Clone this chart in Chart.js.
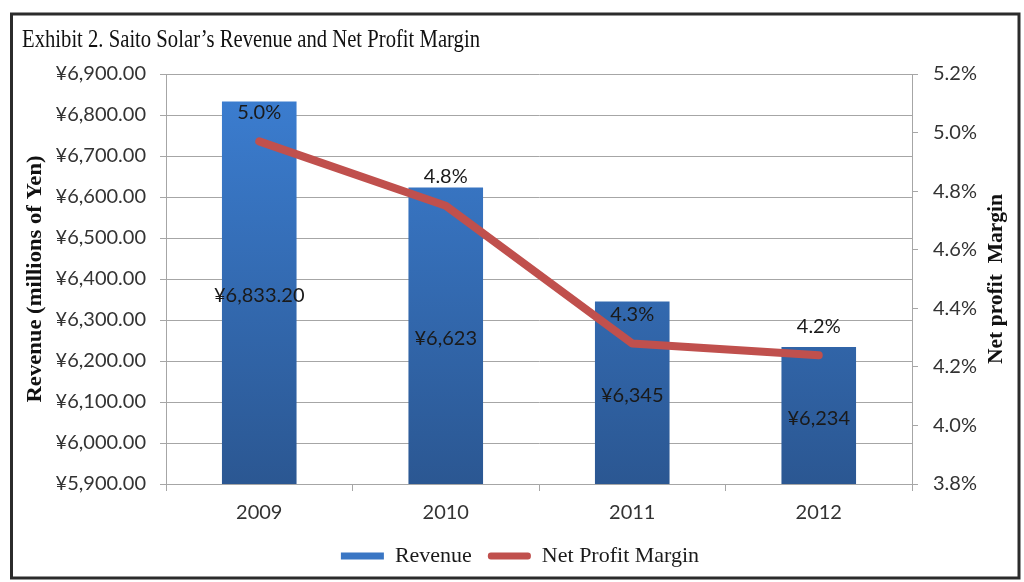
<!DOCTYPE html>
<html>
<head>
<meta charset="utf-8">
<script src="https://cdn.jsdelivr.net/npm/chart.js@4.4.1/dist/chart.umd.min.js"></script>
<style>
  html, body { margin: 0; padding: 0; background: #ffffff; }
  #wrap { width: 1024px; height: 582px; }
</style>
</head>
<body>
<div id="wrap"><canvas id="c" width="1024" height="582"></canvas></div>
<script>
// ---- data ----
const years = ['2009', '2010', '2011', '2012'];
const revenue = [6833.20, 6623, 6345, 6234];
const netMargin = [4.97, 4.75, 4.28, 4.24];
const chartTitle = 'Exhibit 2. Saito Solar\u2019s Revenue and Net Profit Margin';
const leftAxisTitle = 'Revenue (millions of Yen)';
const rightAxisTitle = 'Net profit  Margin';
const seriesNames = ['Revenue', 'Net Profit Margin'];
const revenueAxis = { min: 5900, max: 6900, step: 100 };
const marginAxis = { min: 3.8, max: 5.2, step: 0.2 };

const BAR_TOP = '#3c7fd3';
const BAR_BOTTOM = '#2b5792';
const BAR_LEGEND = '#3a76c4';
const LINE_COLOR = '#c0504d';
const GRID = '#a6a6a6';
const TEXT = '#333333';
const DARK = '#1a1a1a';

function fmtYen(v, fixed) {
  const isInt = Math.abs(v - Math.round(v)) < 1e-9;
  const digits = fixed ? 2 : (isInt ? 0 : 2);
  return '\u00a5' + v.toLocaleString('en-US', { minimumFractionDigits: digits, maximumFractionDigits: digits });
}

Chart.defaults.font.family = 'Lato';
Chart.defaults.color = TEXT;

const decorPlugin = {
  id: 'decor',
  beforeDraw(chart) {
    const ctx = chart.ctx;
    ctx.save();
    ctx.fillStyle = '#ffffff';
    ctx.fillRect(0, 0, chart.width, chart.height);
    ctx.restore();
  },
  afterDraw(chart) {
    const ctx = chart.ctx;
    const ca = chart.chartArea;
    ctx.save();
    // frame
    ctx.strokeStyle = '#2b2b2b';
    ctx.lineWidth = 3;
    ctx.strokeRect(11.5, 14, 1007.5, 564);
    // main title
    ctx.fillStyle = '#111111';
    ctx.font = '26px "Liberation Serif"';
    ctx.textBaseline = 'alphabetic';
    ctx.textAlign = 'left';
    const w = ctx.measureText(chartTitle).width;
    ctx.save();
    ctx.translate(22, 47);
    ctx.scale(458 / w, 1);
    ctx.fillText(chartTitle, 0, 0);
    ctx.restore();
    // axis titles
    const midY = (ca.top + ca.bottom) / 2;
    ctx.font = 'bold 21px "Liberation Serif"';
    ctx.textAlign = 'center';
    ctx.textBaseline = 'middle';
    ctx.fillStyle = '#111111';
    const lw = ctx.measureText(leftAxisTitle).width;
    ctx.save();
    ctx.translate(36, midY);
    ctx.rotate(-Math.PI / 2);
    ctx.scale(247 / lw, 1);
    ctx.fillText(leftAxisTitle, 0, 0);
    ctx.restore();
    const rw = ctx.measureText(rightAxisTitle).width;
    ctx.save();
    ctx.translate(997, midY);
    ctx.rotate(-Math.PI / 2);
    ctx.scale(170 / rw, 1);
    ctx.fillText(rightAxisTitle, 0, 0);
    ctx.restore();
    ctx.restore();
  },
  afterDatasetsDraw(chart) {
    const ctx = chart.ctx;
    const xs = chart.scales.x;
    const ys = chart.scales.y;
    const y1 = chart.scales.y1;
    ctx.save();
    ctx.font = '20px Lato';
    ctx.fillStyle = DARK;
    ctx.textAlign = 'center';
    ctx.textBaseline = 'middle';
    revenue.forEach((v, i) => {
      const x = xs.getPixelForValue(i);
      const top = ys.getPixelForValue(v);
      const base = ys.getPixelForValue(revenueAxis.min);
      ctx.fillText(fmtYen(v, false), x, (top + base) / 2 + 3);
    });
    netMargin.forEach((v, i) => {
      const x = xs.getPixelForValue(i);
      const y = y1.getPixelForValue(v);
      ctx.fillText(v.toFixed(1) + '%', x, y - 29);
    });
    ctx.restore();
  }
};

const ctx = document.getElementById('c').getContext('2d');
new Chart(ctx, {
  type: 'bar',
  data: {
    labels: years,
    datasets: [
      {
        type: 'line',
        label: seriesNames[1],
        data: netMargin,
        yAxisID: 'y1',
        borderColor: LINE_COLOR,
        backgroundColor: LINE_COLOR,
        borderWidth: 8,
        borderCapStyle: 'round',
        borderJoinStyle: 'round',
        pointRadius: 0,
        pointHoverRadius: 0,
        tension: 0,
        fill: false,
        order: 0
      },
      {
        type: 'bar',
        label: seriesNames[0],
        data: revenue,
        yAxisID: 'y',
        backgroundColor: (c) => {
          const ca = c.chart.chartArea;
          if (!ca) return BAR_LEGEND;
          const g = c.chart.ctx.createLinearGradient(0, ca.top, 0, ca.bottom);
          g.addColorStop(0, BAR_TOP);
          g.addColorStop(1, BAR_BOTTOM);
          return g;
        },
        borderWidth: 0,
        barPercentage: 0.4,
        categoryPercentage: 1.0,
        order: 1
      }
    ]
  },
  options: {
    responsive: false,
    animation: false,
    devicePixelRatio: 1,
    layout: { padding: { top: 74, left: 16, right: 0, bottom: 5 } },
    plugins: {
      tooltip: { enabled: false },
      title: { display: false },
      legend: {
        display: true,
        position: 'bottom',
        labels: {
          boxWidth: 43,
          boxHeight: 7,
          padding: 16,
          color: DARK,
          font: { family: 'Liberation Serif', size: 22 },
          generateLabels: (chart) => [
            { text: seriesNames[0], fillStyle: BAR_LEGEND, strokeStyle: BAR_LEGEND, lineWidth: 0, datasetIndex: 1, fontColor: DARK },
            { text: seriesNames[1], fillStyle: LINE_COLOR, strokeStyle: LINE_COLOR, lineWidth: 0, borderRadius: 3, datasetIndex: 0, fontColor: DARK }
          ]
        }
      }
    },
    scales: {
      x: {
        offset: true,
        grid: { offset: true, drawOnChartArea: false, drawTicks: true, tickLength: 7, color: GRID },
        border: { color: GRID },
        ticks: { padding: 10, color: TEXT, font: { size: 20 } },
        afterFit: (s) => { s.height = 45; }
      },
      y: {
        position: 'left',
        min: revenueAxis.min,
        max: revenueAxis.max,
        grid: { color: GRID, tickLength: 6 },
        border: { color: GRID },
        ticks: {
          stepSize: revenueAxis.step,
          padding: 14,
          color: TEXT,
          font: { size: 20 },
          callback: (v) => fmtYen(v, true)
        },
        afterFit: (s) => { s.width = 150; }
      },
      y1: {
        position: 'right',
        min: marginAxis.min,
        max: marginAxis.max,
        grid: { drawOnChartArea: false, color: GRID, tickLength: 6 },
        border: { color: GRID },
        ticks: {
          stepSize: marginAxis.step,
          padding: 15,
          color: TEXT,
          font: { size: 20 },
          callback: (v) => Number(v).toFixed(1) + '%'
        },
        afterFit: (s) => { s.width = 112; }
      }
    }
  },
  plugins: [decorPlugin]
});
</script>
</body>
</html>
